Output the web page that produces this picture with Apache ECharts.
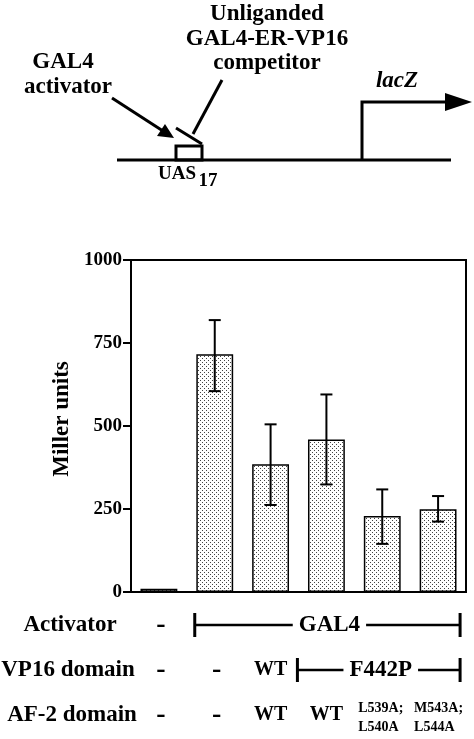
<!DOCTYPE html>
<html>
<head>
<meta charset="utf-8">
<script src="https://cdn.jsdelivr.net/npm/echarts@6/dist/echarts.min.js"></script>
<style>
html,body{margin:0;padding:0;background:#fff;}
#main{width:474px;height:739px;}
</style>
</head>
<body>
<div id="main"></div>
<script>
// ---- data ----
const categories = ['None', 'GAL4', 'GAL4 WT/WT', 'GAL4 F442P/WT', 'GAL4 F442P/L539A;L540A', 'GAL4 F442P/M543A;L544A'];
const millerUnits = [10, 716, 385, 459, 229, 249];
const errorLow = [null, 605, 262, 324, 145, 212];
const errorHigh = [null, 819, 505, 595, 309, 289];
const yTicks = [0, 250, 500, 750, 1000];
const rowLabels = ['Activator', 'VP16 domain', 'AF-2 domain'];
const activatorRow = ['-', 'GAL4', 'GAL4', 'GAL4', 'GAL4', 'GAL4'];
const vp16Row = ['-', '-', 'WT', 'F442P', 'F442P', 'F442P'];
const af2Row = ['-', '-', 'WT', 'WT', 'L539A;\nL540A', 'M543A;\nL544A'];

const SERIF = '"Liberation Serif","Times New Roman",serif';

// dotted fill pattern
function makePattern() {
  const c = document.createElement('canvas');
  c.width = 4; c.height = 4;
  const g = c.getContext('2d');
  g.fillStyle = '#ffffff';
  g.fillRect(0, 0, 4, 4);
  g.fillStyle = '#444444';
  g.fillRect(0, 0, 1, 1);
  g.fillRect(2, 2, 1, 1);
  return c;
}

const chart = echarts.init(document.getElementById('main'), null, {renderer: 'canvas'});

const errData = categories.map((c, i) => [i, errorLow[i], errorHigh[i]]).filter(d => d[1] != null);

chart.setOption({
  animation: false,
  backgroundColor: '#fff',
  grid: {left: 131, top: 260, width: 335, height: 332, show: true, borderColor: '#000', borderWidth: 2, backgroundColor: 'transparent'},
  xAxis: {
    type: 'category', data: categories,
    axisLine: {lineStyle: {color: '#000', width: 2}},
    axisTick: {show: false}, axisLabel: {show: false}, splitLine: {show: false}
  },
  yAxis: {
    type: 'value', min: yTicks[0], max: yTicks[yTicks.length - 1], interval: 250,
    name: 'Miller units', nameLocation: 'middle', nameGap: 49, nameRotate: 90,
    nameTextStyle: {fontFamily: SERIF, fontWeight: 'bold', fontSize: 23, color: '#000', padding: [0, 0, 0, 14]},
    axisLine: {show: true, lineStyle: {color: '#000', width: 2}},
    axisTick: {show: true, length: 8, lineStyle: {color: '#000', width: 2}},
    axisLabel: {fontFamily: SERIF, fontWeight: 'bold', fontSize: 19, color: '#000', margin: 9,
      formatter: function (v) { return String(v); }},
    splitLine: {show: false}
  },
  series: [
    {
      type: 'bar', data: millerUnits, barWidth: '66%',
      itemStyle: {color: {image: makePattern(), repeat: 'repeat'}, borderColor: '#000', borderWidth: 1.5}
    },
    {
      type: 'custom', data: errData, z: 10,
      renderItem: function (params, api) {
        const x = api.value(0);
        const lo = api.coord([x, api.value(1)]);
        const hi = api.coord([x, api.value(2)]);
        const w = 6;
        const st = {stroke: '#000', lineWidth: 2};
        return {type: 'group', children: [
          {type: 'line', shape: {x1: lo[0], y1: lo[1], x2: hi[0], y2: hi[1]}, style: st},
          {type: 'line', shape: {x1: hi[0] - w, y1: hi[1], x2: hi[0] + w, y2: hi[1]}, style: st},
          {type: 'line', shape: {x1: lo[0] - w, y1: lo[1], x2: lo[0] + w, y2: lo[1]}, style: st}
        ]};
      }
    }
  ]
});

// ---- annotations (diagram + table) ----
const g = [];
const LW = 3;
function line(x1, y1, x2, y2, w) {
  g.push({type: 'line', shape: {x1, y1, x2, y2}, style: {stroke: '#000', lineWidth: w || LW}, z: 20});
}
function poly(points) {
  g.push({type: 'polygon', shape: {points}, style: {fill: '#000'}, z: 20});
}
function text(t, x, y, size, opts) {
  opts = opts || {};
  g.push({type: 'text', x, y, z: 30, style: Object.assign({
    text: t, fontFamily: SERIF, fontWeight: 'bold', fontSize: size, fill: '#000',
    textAlign: 'center', textVerticalAlign: 'middle'
  }, opts)});
}

// top diagram
line(117, 160, 451, 160);
g.push({type: 'rect', shape: {x: 176, y: 146, width: 26, height: 14}, style: {fill: 'none', stroke: '#000', lineWidth: LW}, z: 20});
// activator arrow
line(112, 98, 163, 131);
poly([[174, 138], [157, 136], [165, 124]]);
// competitor
line(222, 80, 193, 134);
line(176, 128, 202, 144);
// lacZ arrow
g.push({type: 'polyline', shape: {points: [[362, 160], [362, 102], [450, 102]]}, style: {stroke: '#000', lineWidth: LW, fill: 'none'}, z: 20});
poly([[472, 102], [445, 93], [445, 111]]);
text('Unliganded', 267, 14, 23);
text('GAL4-ER-VP16', 267, 39, 23);
text('competitor', 267, 63, 23);
text('GAL4', 63, 62, 23);
text('activator', 68, 87, 23);
text('lacZ', 397, 81, 23, {fontStyle: 'italic'});
text('UAS', 177, 174, 19);
text('17', 208, 181, 19);

// table rows
const rows = [
  {label: rowLabels[0], cells: activatorRow, y: 625, pad: [20, 22], lx: 70, bracket: true},
  {label: rowLabels[1], cells: vp16Row, y: 670, pad: [29, 22], lx: 68, bracket: true},
  {label: rowLabels[2], cells: af2Row, y: 715, pad: [20, 22], lx: 72, bracket: false}
];
const xs = categories.map((c, i) => chart.convertToPixel({xAxisIndex: 0}, i));
rows.forEach(function (r) {
  text(r.label, r.lx, r.y, 23);
  let i = 0;
  while (i < r.cells.length) {
    const v = r.cells[i];
    let j = i;
    if (r.bracket) {
      while (j + 1 < r.cells.length && r.cells[j + 1] === v && v !== '-') j++;
    }
    if (j > i) {
      const x1 = xs[i] - r.pad[0], x2 = xs[j] + r.pad[1];
      line(x1, r.y, x2, r.y, 2.5);
      line(x1, r.y - 12, x1, r.y + 12, 3);
      line(x2, r.y - 12, x2, r.y + 12, 3);
      text(v, (x1 + x2) / 2 + 2, r.y, 23, {backgroundColor: '#fff', padding: [0, 6]});
    } else if (v === '-') {
      text('-', xs[i] + 2, r.y, 28);
    } else if (v.indexOf('\n') >= 0) {
      const parts = v.split('\n');
      text(parts[0], xs[i] - 24, r.y - 7, 14, {textAlign: 'left'});
      text(parts[1], xs[i] - 24, r.y + 12, 14, {textAlign: 'left'});
    } else {
      text(v, xs[i], r.y, 20);
    }
    i = j + 1;
  }
});

chart.setOption({graphic: {elements: g}});
</script>
</body>
</html>
